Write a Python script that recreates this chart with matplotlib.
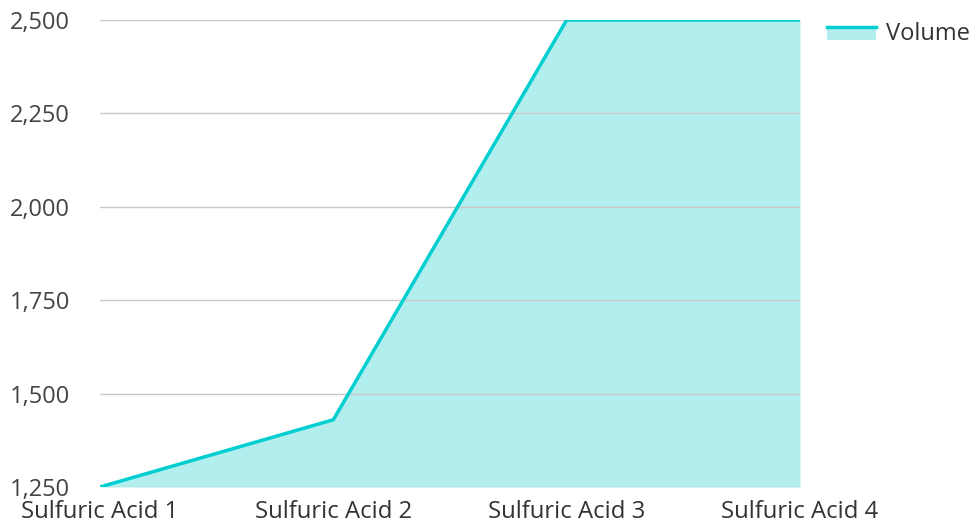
#!/usr/bin/env python3
import matplotlib
matplotlib.use('Agg')
import matplotlib.pyplot as plt
from matplotlib.legend_handler import HandlerBase
from matplotlib.patches import Rectangle
from matplotlib.lines import Line2D
import numpy as np

categories = ['Sulfuric Acid 1', 'Sulfuric Acid 2', 'Sulfuric Acid 3', 'Sulfuric Acid 4']
volume = [1250, 1430, 2500, 2500]
y_ticks = [1250, 1500, 1750, 2000, 2250, 2500]

line_color = '#00CED1'
fill_color = '#B2EEEE'


class AreaHandler(HandlerBase):
    # filled box with the line along its top edge
    def create_artists(self, legend, orig_handle, xdescent, ydescent,
                       width, height, fontsize, trans):
        rect = Rectangle((-xdescent, -ydescent), width, height * 0.75,
                         facecolor=fill_color, edgecolor='none', transform=trans)
        line = Line2D([-xdescent, -xdescent + width],
                      [-ydescent + height * 0.75] * 2,
                      color=line_color, lw=2.5, transform=trans)
        return [rect, line]


plt.rcParams['font.family'] = ['Open Sans', 'DejaVu Sans']

fig = plt.figure(figsize=(9.75, 5.28), dpi=100)
ax = fig.add_axes([100 / 975, 1 - 487 / 528, 700 / 975, 467 / 528])

x = np.arange(len(categories))
ax.fill_between(x, volume, y_ticks[0], color=fill_color, lw=0, zorder=1)
ax.plot(x, volume, color=line_color, lw=2.5, zorder=3, solid_joinstyle='miter')

ax.set_xlim(0, len(categories) - 1)
ax.set_ylim(y_ticks[0], y_ticks[-1])
ax.set_xticks(x)
ax.set_xticklabels(categories)
ax.set_yticks(y_ticks)
ax.set_yticklabels(['{:,}'.format(v) for v in y_ticks])

for lab in ax.get_yticklabels():
    lab.set_horizontalalignment('left')
ax.tick_params(axis='y', length=0, pad=64.8, labelsize=17, labelcolor='#444444')
ax.tick_params(axis='x', length=0, pad=9, labelsize=17.2, labelcolor='#333333')

ax.grid(axis='y', color='#c8c8c8', lw=1, zorder=2)
ax.set_axisbelow(False)
for s in ax.spines.values():
    s.set_visible(False)

handle = Rectangle((0, 0), 1, 1)
leg = ax.legend([handle], ['Volume'], handler_map={Rectangle: AreaHandler()},
                loc='upper left', bbox_to_anchor=(1.0143, 1.032), frameon=False,
                fontsize=17, handlelength=2.1, handletextpad=0.42,
                borderaxespad=0.3)
for t in leg.get_texts():
    t.set_color('#333333')

fig.savefig('out.png', dpi=100)
